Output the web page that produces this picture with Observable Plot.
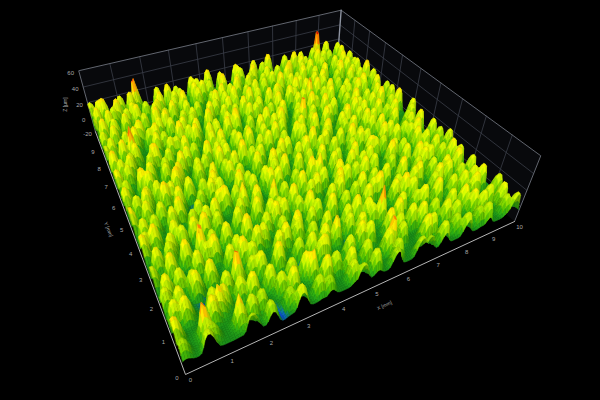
<!DOCTYPE html>
<html><head><meta charset="utf-8">
<script src="https://cdn.jsdelivr.net/npm/d3@7"></script>
<script src="https://cdn.jsdelivr.net/npm/@observablehq/plot@0.6"></script>
<style>html,body{margin:0;background:#000}svg{display:block}</style></head>
<body><div id="chart"></div>
<script>
// estimated peak heights in µm, one row per 0.417 mm of Y (front to back)
const peakZ = [
[12,16,11,18,14,17,13,19,15,12,17,14,18,13,16,15,12,18,14,17,13,16,15,18],
[24,19,23,17,21,20,18,22,19,23,17,21,18,22,20,17,23,19,21,18,22,20,19,21],
[20,22,18,21,19,23,20,17,22,18,21,19,23,20,24,18,21,22,17,20,23,19,21,18],
[18,21,23,19,22,17,21,24,18,20,22,25,19,21,18,23,20,17,22,24,19,21,20,22],
[22,19,17,23,20,24,18,21,23,19,17,22,20,24,21,18,22,25,20,18,23,21,17,20],
[17,23,21,18,24,19,22,20,17,24,21,19,23,18,22,20,25,18,21,23,19,22,24,19],
[21,18,24,20,17,22,25,19,23,21,18,24,20,22,17,23,19,21,24,18,22,20,18,23],
[23,20,19,22,25,18,21,23,20,17,24,19,22,25,21,18,23,20,17,22,24,19,21,20],
[18,24,21,17,20,23,19,22,24,21,18,23,17,20,24,22,19,21,25,20,18,23,21,17],
[20,17,22,25,19,21,24,18,20,23,22,17,25,19,21,18,24,23,20,17,22,19,24,21],
[24,21,19,23,18,22,20,25,17,21,19,24,22,18,23,20,17,22,19,24,21,18,20,23],
[19,23,25,20,22,17,24,21,19,23,25,18,20,24,19,22,21,25,18,20,23,22,17,19],
[22,18,20,24,21,19,23,17,22,18,20,24,21,17,25,19,23,18,22,24,20,17,23,21],
[17,25,22,19,23,20,18,24,21,25,19,22,18,23,20,24,17,21,25,19,22,23,18,24],
[23,19,21,17,24,22,25,20,18,22,24,20,23,19,22,18,24,20,17,23,19,21,25,20],
[20,22,18,25,19,23,17,21,24,19,17,23,21,25,18,22,19,24,21,18,25,20,22,17],
[25,17,23,21,20,18,24,22,20,23,21,18,24,20,23,19,25,17,22,20,19,24,18,23],
[18,24,20,22,17,25,19,23,18,21,25,22,19,17,24,21,20,23,18,25,21,17,23,20],
[21,19,24,18,23,20,22,17,25,20,18,23,21,24,19,23,18,22,24,19,17,22,20,25],
[19,22,17,23,21,24,18,20,23,19,22,17,25,20,22,18,24,20,21,23,18,25,19,21],
[24,20,22,19,25,17,23,21,18,24,20,23,18,22,19,25,21,17,23,20,24,19,22,18],
[17,23,19,24,20,22,18,25,21,17,23,19,24,21,18,20,23,25,19,22,18,21,24,20],
[23,18,25,21,17,24,20,19,23,22,18,25,20,17,24,22,19,21,23,18,25,20,17,22],
[21,25,20,23,19,21,24,18,22,20,24,21,23,19,22,18,25,20,24,21,19,23,22,20]
];
// estimated sideways displacement of each peak, digit 0-9 (4.5 = on the lattice)
const peakDX = ["370514826193","285061739420","618340275916","402957138660","751286094312","139604827573","864021597340","297510386249","503862941716","746139205835","120598374662","958243061784","374906152839","681527340195","205783961426","849316072358","460271895311","132958406727","795604213986","318062749553","643875120964","027491638875","581236947402","916407528133"];
const peakDY = ["628104937561","143970285626","907562413308","351829076445","782436109953","460295718832","216873590364","935014682797","570648231109","824359760142","193762508416","658410937285","301587246960","746290153818","482916073254","037564829171","869321704596","514078392663","290647185339","753182946020","168405237794","426759013688","901236578445","375840162927"];
// tallest peaks: x mm, y mm, z µm
const tallX = [0.7,1.6,0.8,1.4,1.9,6.4,8.9,7.2,6.2,5.9,1.5,3.6,3.0,3.8,2.6,5.5,4.7,1.2];
const tallY = [0.4,9.9,7.2,2.6,1.4,6.4,9.9,7.4,1.5,0.6,0.3,0.7,3.6,3.3,4.9,3.7,1.4,0.8];
const tallZ = [40,44,40,38,40,38,48,35,39,38,31,31,31,31,29,30,31,29];
const cornerPeak = {x:0.05,y:9.9,z:21};
// deep blue pits seen between the peaks: x mm, y mm
const pitX = [1.8,1.0,2.0,2.4,1.2,4.5,3.5,5.0];
const pitY = [4.3,1.3,0.5,0.15,3.6,2.0,1.2,1.2];

const xTicks = [0,1,2,3,4,5,6,7,8,9,10];
const yTicks = [0,1,2,3,4,5,6,7,8,9];
const zTicks = [-20,0,20,40,60];
const gridX = [1,2,3,4,5,6,7,8,9];
const gridZ = [0,20,40];

// camera of the 3D box
function proj(x,y,z){
  const X=x/10,Y=y/10,Z=(z+20)/80,w=1+.3066*X+.5882*Y-.132*Z;
  return {sx:(185+486.6*X-34.1*Y-37*Z)/w, sy:(374-85.2*X-165.3*Y-106.4*Z)/w, w};
}

// peak list
const step=10/24, peaks=[];
const SB=.165,EB=3;
peakZ.forEach((row,j)=>row.forEach((h,i)=>{
  const dx=(+peakDX[j][i%12]-4.5+(i>11?1.5:0))*0.035, dy=(+peakDY[j][(i+j)%12]-4.5)*0.03;
  peaks.push({x:(i+.35)*step+dx,y:(j+.35)*step+dy,h:h+2,s:SB,e:EB});
}));
tallX.forEach((x,k)=>{
  const y=tallY[k]; let best=0,bd=1e9;
  peaks.forEach((p,n)=>{const d=(p.x-x)**2+(p.y-y)**2; if(d<bd){bd=d;best=n;}});
  peaks[best]={x,y,h:20,s:SB,e:EB};
  peaks.push({x,y,h:tallZ[k],s:.125,e:1.4});
});
peaks.push({x:cornerPeak.x,y:cornerPeak.y,h:cornerPeak.z,s:SB,e:EB});

// surface
const N=160, base=-5;
const Zg=new Float64Array((N+1)*(N+1));
for(const p of peaks){
  const r=Math.ceil(.6/10*N);
  const ci=Math.round(p.x/10*N), cj=Math.round(p.y/10*N);
  for(let j=Math.max(0,cj-r);j<=Math.min(N,cj+r);j++)for(let i=Math.max(0,ci-r);i<=Math.min(N,ci+r);i++){
    const d=Math.hypot(i/N*10-p.x,j/N*10-p.y)/p.s;
    const v=(p.h-base)*Math.exp(-Math.pow(d,p.e));
    Zg[j*(N+1)+i]+=v*v*v*v;
  }
}
const zAt=(i,j)=>{
  let z=base+Math.pow(Zg[j*(N+1)+i],.25);
  const x=i/N*10,y=j/N*10;
  pitX.forEach((px,k)=>{const d=((x-px)**2+(y-pitY[k])**2)/.035; if(d<6) z-=7*Math.exp(-d);});
  return z;
};
const ramp=d3.scaleLinear()
 .domain([-11,-8,-5,0,5,10,15,21,27,32,37])
 .range(["#0a30d0","#0a6aa0","#1a8a18","#2a9c10","#4fb000","#80c800","#b0dc00","#dce800","#ffc800","#ff7000","#f01000"])
 .clamp(true);
const cells=[];
const h=10/N;
for(let j=0;j<N;j++)for(let i=0;i<N;i++){
  const a=zAt(i,j),b=zAt(i+1,j),c=zAt(i+1,j+1),d=zAt(i,j+1);
  const m=(a+b+c+d)/4;
  const gx=((b+c)-(a+d))/(2*h), gy=((c+d)-(a+b))/(2*h);
  const nn=Math.hypot(gx*.012,gy*.012,1);
  const lam=(gx*.012*.62+gy*.012*.45+.64)/nn;
  const k=.84+.3*Math.max(0,lam);
  const col=d3.rgb(ramp(m));
  col.r=Math.min(255,col.r*k);col.g=Math.min(255,col.g*k);col.b=Math.min(255,col.b*k);
  cells.push({i,j,w:proj((i+.5)*h,(j+.5)*h,m).w,color:col.formatHex()});
}
cells.sort((p,q)=>q.w-p.w);
const verts=[];
cells.forEach((q,n)=>{
  for(const [di,dj] of [[0,0],[1,0],[1,1],[0,1]]){
    const P=proj((q.i+di)*h,(q.j+dj)*h,zAt(q.i+di,q.j+dj));
    verts.push({sx:P.sx,sy:P.sy,q:n,color:q.color});
  }
});

const path=(pts,id)=>pts.map(([x,y,z])=>({...proj(x,y,z),id}));
const walls=[...path([[0,10,-20],[10,10,-20],[10,10,60],[0,10,60]],"a"),...path([[10,0,-20],[10,10,-20],[10,10,60],[10,0,60]],"b")];
const grid=[];
gridX.forEach(v=>{grid.push(...path([[v,10,-20],[v,10,60]],"x"+v));grid.push(...path([[10,v,-20],[10,v,60]],"y"+v));});
gridZ.forEach(v=>{grid.push(...path([[0,10,v],[10,10,v],[10,0,v]],"z"+v));});
const edges=path([[0,10,-20],[0,10,60],[10,10,60],[10,0,60],[10,0,-20]],"e");
const corner=path([[10,10,-20],[10,10,60]],"c");
const axes=path([[0,10,-20],[0,0,-20],[10,0,-20]],"ax");
const tickSegs=[];
xTicks.forEach(v=>tickSegs.push({...proj(v,0,-20),label:String(v)}));
const yLab=yTicks.map(v=>({...proj(0,v,-20),label:String(v)}));
const zLab=zTicks.map(v=>({...proj(0,10,v),label:String(v)}));
const txt={fill:"#a8a8a8",fontSize:6,fontFamily:"'Liberation Sans',sans-serif"};
const L={x:"sx",y:"sy",z:"id"};

const chart=Plot.plot({
  width:600,height:400,margin:0,
  style:{background:"#000"},
  x:{domain:[0,600],range:[0,600],axis:null},
  y:{domain:[0,400],range:[0,400],axis:null},
  color:{type:"identity"},
  marks:[
    Plot.line(walls,{...L,fill:"#08090c",stroke:"none",curve:"linear-closed"}),
    Plot.line(grid,{...L,stroke:"#3a3d48",strokeWidth:.8}),
    Plot.line(edges,{...L,stroke:"#62666f",strokeWidth:1}),
    Plot.line(corner,{...L,stroke:"#8d93a0",strokeWidth:1.4}),
    Plot.line(verts,{x:"sx",y:"sy",z:"q",fill:"color",stroke:"color",strokeWidth:.4,curve:"linear-closed"}),
    Plot.line(axes,{...L,stroke:"#b4b4b4",strokeWidth:1}),
    Plot.text(tickSegs,{x:"sx",y:"sy",text:"label",dx:5,dy:6,...txt}),
    Plot.text(yLab,{x:"sx",y:"sy",text:"label",dx:-8.5,dy:4,...txt}),
    Plot.text(zLab,{x:"sx",y:"sy",text:"label",dx:-8,dy:2,...txt}),
    Plot.text([{sx:384,sy:305,t:"X [mm]"}],{x:"sx",y:"sy",text:"t",rotate:-25,...txt,fontSize:5}),
    Plot.text([{sx:108,sy:229,t:"Y [mm]"}],{x:"sx",y:"sy",text:"t",rotate:68,...txt,fontSize:5}),
    Plot.text([{sx:65,sy:104,t:"Z [µm]"}],{x:"sx",y:"sy",text:"t",rotate:-90,...txt,fontSize:5})
  ]
});
document.getElementById("chart").append(chart);
</script></body></html>
